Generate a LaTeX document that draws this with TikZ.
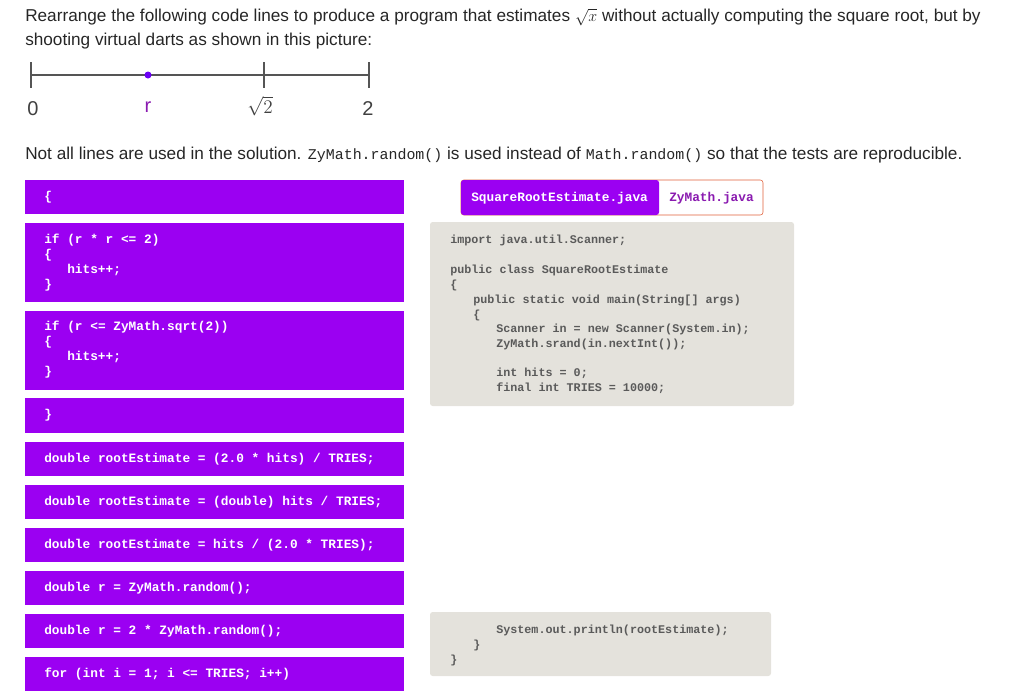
\documentclass[tikz,border=0pt]{standalone}
\usepackage{fontspec}
\setmainfont{Liberation Sans}
\newfontfamily\codefont{Liberation Mono}
\usetikzlibrary{positioning}
\definecolor{zypurple}{HTML}{9B00F2}
\definecolor{zygray}{HTML}{E4E2DC}
\definecolor{zycode}{HTML}{5A5A5A}
\definecolor{zyline}{HTML}{555555}
\definecolor{zyred}{HTML}{E0603A}
\definecolor{zydark}{HTML}{8A1AB0}

\tikzstyle{txt}=[anchor=mid west, inner sep=0pt, font=\fontsize{12.9}{14}\selectfont, text=black!85]
\tikzstyle{linebox}=[fill=zypurple, draw=none]
\tikzstyle{cline}=[anchor=mid west, inner sep=0pt, text=white, font=\codefont\bfseries\fontsize{9.6}{11}\selectfont]
\tikzstyle{gline}=[anchor=mid west, inner sep=0pt, text=zycode, font=\codefont\bfseries\fontsize{8.8}{10}\selectfont]
\tikzstyle{tick}=[zyline, line width=1.2pt]
\tikzstyle{numlab}=[inner sep=0pt, font=\fontsize{15}{17}\selectfont, text=black!75]

\begin{document}
\begin{tikzpicture}[x=0.75pt,y=-0.75pt]
\useasboundingbox (0,0) rectangle (1024,697);

% question text
\node[txt] (q1) at (25,18) {Rearrange the following code lines to produce a program that estimates $\sqrt{x}$ without actually computing the square root, but by};
\node[txt] (q2) at (25,42) {shooting virtual darts as shown in this picture:};

% number line
\coordinate (n0) at (31,75);
\coordinate (n2) at (369,75);
\draw[tick] (n0) -- (n2);
\draw[tick] (31,62) -- (31,88);
\draw[tick] (264,62) -- (264,88);
\draw[tick] (369,62) -- (369,88);
\fill[zypurple!70!blue] (148,75) circle (3.5);
\node[numlab] (l0) at (33,109) {0};
\node[numlab, text=zydark] (lr) at (148,107) {r};
\node[numlab] (ls) at (260,106) {$\sqrt{2}$};
\node[numlab] (l2) at (368,109) {2};

\node[txt] (q3) at (25,156) {Not all lines are used in the solution. {\codefont\fontsize{11.2}{14}\selectfont ZyMath.random()} is used instead of {\codefont\fontsize{11.2}{14}\selectfont Math.random()} so that the tests are reproducible.};

% code lines to rearrange
\fill[linebox] (25,180) rectangle (404,214);
\node[cline] (b1) at (44,197) {\{};
\fill[linebox] (25,223) rectangle (404,302);
\node[cline] (b2a) at (44,240) {if (r * r <= 2)};
\node[cline] (b2b) at (44,255) {\{};
\node[cline] (b2c) at (67,270) {hits++;};
\node[cline] (b2d) at (44,285) {\}};
\fill[linebox] (25,311) rectangle (404,390);
\node[cline] (b3a) at (44,327) {if (r <= ZyMath.sqrt(2))};
\node[cline] (b3b) at (44,342) {\{};
\node[cline] (b3c) at (67,357) {hits++;};
\node[cline] (b3d) at (44,372) {\}};
\fill[linebox] (25,398) rectangle (404,433);
\node[cline] (b4) at (44,415) {\}};
\fill[linebox] (25,442) rectangle (404,476);
\node[cline] (b5) at (44,459) {double rootEstimate = (2.0 * hits) / TRIES;};
\fill[linebox] (25,485) rectangle (404,519);
\node[cline] (b6) at (44,502) {double rootEstimate = (double) hits / TRIES;};
\fill[linebox] (25,528) rectangle (404,562);
\node[cline] (b7) at (44,545) {double rootEstimate = hits / (2.0 * TRIES);};
\fill[linebox] (25,571) rectangle (404,605);
\node[cline] (b8) at (44,588) {double r = ZyMath.random();};
\fill[linebox] (25,614) rectangle (404,648);
\node[cline] (b9) at (44,631) {double r = 2 * ZyMath.random();};
\fill[linebox] (25,657) rectangle (404,691);
\node[cline] (b10) at (44,674) {for (int i = 1; i <= TRIES; i++)};

% file tabs
\draw[zyred, fill=white, rounded corners=2pt] (461,180) rectangle (763,215);
\fill[zypurple, rounded corners=2pt] (461,180) rectangle (659,215);
\node[cline] (t1) at (471,198) {SquareRootEstimate.java};
\node[cline, text=zydark] (t2) at (669,198) {ZyMath.java};

% given code
\fill[zygray, rounded corners=2pt] (430,222) rectangle (794,406);
\node[gline] (g1) at (450,240) {import java.util.Scanner;};
\node[gline] (g2) at (450,270) {public class SquareRootEstimate};
\node[gline] (g3) at (450,285) {\{};
\node[gline] (g4) at (473,300) {public static void main(String[] args)};
\node[gline] (g5) at (473,315) {\{};
\node[gline] (g6) at (496,329) {Scanner in = new Scanner(System.in);};
\node[gline] (g7) at (496,344) {ZyMath.srand(in.nextInt());};
\node[gline] (g8) at (496,373) {int hits = 0;};
\node[gline] (g9) at (496,388) {final int TRIES = 10000;};

\fill[zygray, rounded corners=2pt] (430,612) rectangle (771,676);
\node[gline] (h1) at (496,630) {System.out.println(rootEstimate);};
\node[gline] (h2) at (473,645) {\}};
\node[gline] (h3) at (450,660) {\}};
\end{tikzpicture}
\end{document}
